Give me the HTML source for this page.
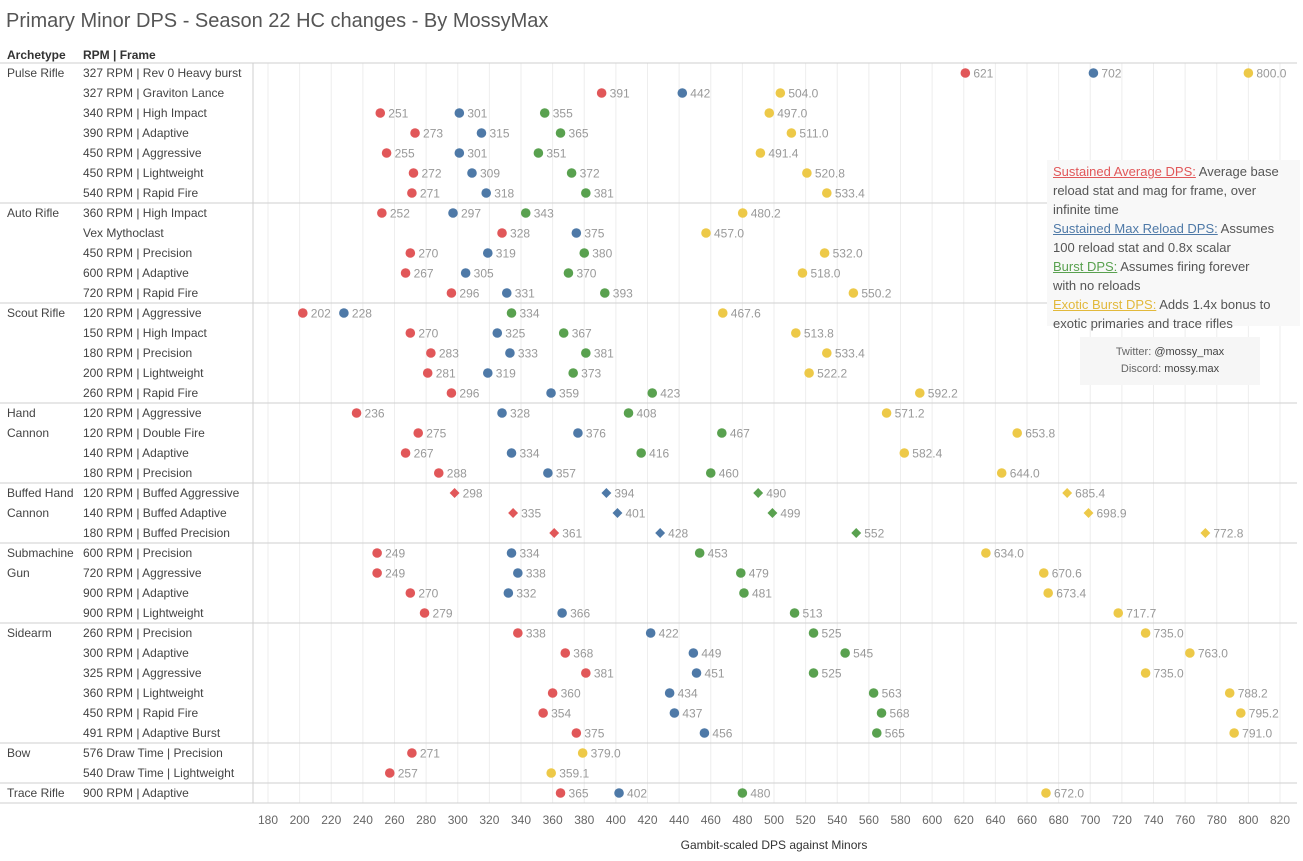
<!DOCTYPE html>
<html><head><meta charset="utf-8"><style>
body{margin:0;background:#fff;font-family:"Liberation Sans",sans-serif;}
#wrap{position:relative;width:1303px;height:861px;overflow:hidden;}
.legend{position:absolute;left:1047px;top:160px;width:253px;height:166px;background:#f8f8f8;font-size:13px;line-height:19px;color:#555;padding:2px 4px 2px 6px;box-sizing:border-box;white-space:nowrap;}
.legend u{text-decoration:underline;}
.social{position:absolute;left:1080px;top:337px;width:180px;height:48px;background:#f6f6f6;font-size:11px;line-height:17px;color:#666;text-align:center;padding-top:7px;box-sizing:border-box;}
.social b{color:#444;font-weight:normal;}
</style></head><body>
<div id="wrap">
<svg id="chart" width="1303" height="861" style="position:absolute;left:0;top:0;font-family:'Liberation Sans',sans-serif;"></svg>
<div class="legend">
<span><u style="color:#e15759">Sustained Average DPS:</u> Average base<br>reload stat and mag for frame, over<br>infinite time</span><br>
<span><u style="color:#4e79a7">Sustained Max Reload DPS:</u> Assumes<br>100 reload stat and 0.8x scalar</span><br>
<span><u style="color:#59a14f">Burst DPS:</u> Assumes firing forever<br>with no reloads</span><br>
<span><u style="color:#e2b93b">Exotic Burst DPS:</u> Adds 1.4x bonus to<br>exotic primaries and trace rifles</span>
</div>
<div class="social">Twitter: <b>@mossy_max</b><br>Discord: <b>mossy.max</b></div>
</div>
<script>
const groups=["Pulse Rifle","Auto Rifle","Scout Rifle","Hand\nCannon","Buffed Hand\nCannon","Submachine\nGun","Sidearm","Bow","Trace Rifle"];
const groupSizes=[7,5,5,4,3,4,6,2,1];
const frames=["327 RPM | Rev 0 Heavy burst","327 RPM | Graviton Lance","340 RPM | High Impact","390 RPM | Adaptive","450 RPM | Aggressive","450 RPM | Lightweight","540 RPM | Rapid Fire",
"360 RPM | High Impact","Vex Mythoclast","450 RPM | Precision","600 RPM | Adaptive","720 RPM | Rapid Fire",
"120 RPM | Aggressive","150 RPM | High Impact","180 RPM | Precision","200 RPM | Lightweight","260 RPM | Rapid Fire",
"120 RPM | Aggressive","120 RPM | Double Fire","140 RPM | Adaptive","180 RPM | Precision",
"120 RPM | Buffed Aggressive","140 RPM | Buffed Adaptive","180 RPM | Buffed Precision",
"600 RPM | Precision","720 RPM | Aggressive","900 RPM | Adaptive","900 RPM | Lightweight",
"260 RPM | Precision","300 RPM | Adaptive","325 RPM | Aggressive","360 RPM | Lightweight","450 RPM | Rapid Fire","491 RPM | Adaptive Burst",
"576 Draw Time | Precision","540 Draw Time | Lightweight","900 RPM | Adaptive"];
const sustainedAvg=[621,391,251,273,255,272,271,252,328,270,267,296,202,270,283,281,296,236,275,267,288,298,335,361,249,249,270,279,338,368,381,360,354,375,271,257,365];
const sustainedMax=[702,442,301,315,301,309,318,297,375,319,305,331,228,325,333,319,359,328,376,334,357,394,401,428,334,338,332,366,422,449,451,434,437,456,null,null,402];
const burst=[null,null,355,365,351,372,381,343,null,380,370,393,334,367,381,373,423,408,467,416,460,490,499,552,453,479,481,513,525,545,525,563,568,565,null,null,480];
const exoticBurst=[800.0,504.0,497.0,511.0,491.4,520.8,533.4,480.2,457.0,532.0,518.0,550.2,467.6,513.8,533.4,522.2,592.2,571.2,653.8,582.4,644.0,685.4,698.9,772.8,634.0,670.6,673.4,717.7,735.0,763.0,735.0,788.2,795.2,791.0,379.0,359.1,672.0];
const diamondRows=[21,22,23];
const ticks=[180,200,220,240,260,280,300,320,340,360,380,400,420,440,460,480,500,520,540,560,580,600,620,640,660,680,700,720,740,760,780,800,820];

const svg=document.getElementById('chart');const NS='http://www.w3.org/2000/svg';
function mk(t,a,p){const e=document.createElementNS(NS,t);for(const k in a)e.setAttribute(k,a[k]);(p||svg).appendChild(e);return e;}
const X=v=>268+(v-180)*(1012/640);
const Y=i=>73+i*20;
const plotL=253,plotR=1297,plotT=63,plotB=803;

let t=mk('text',{x:6,y:27,'font-size':20,fill:'#555'});t.textContent='Primary Minor DPS - Season 22 HC changes - By MossyMax';


t=mk('text',{x:7,y:59,'font-size':12,fill:'#333','font-weight':'bold'});t.textContent='Archetype';


t=mk('text',{x:83,y:59,'font-size':12,fill:'#333','font-weight':'bold'});t.textContent='RPM | Frame';



ticks.forEach(v=>{const l=mk('line',{x1:X(v),x2:X(v),y1:plotT,y2:plotB,stroke:'#eeeeee','stroke-width':1});

});
mk('line',{x1:0,x2:plotR,y1:plotT,y2:plotT,stroke:'#cfcfcf'});
mk('line',{x1:plotL,x2:plotL,y1:plotT,y2:plotB,stroke:'#cfcfcf'});
mk('line',{x1:0,x2:plotR,y1:plotB,y2:plotB,stroke:'#cfcfcf'});

let start=0;
groups.forEach((g,gi)=>{
  const lines=g.split('\n');
  lines.forEach((ln,li)=>{const tt=mk('text',{x:7,y:Y(start)+4+li*20,'font-size':12,fill:'#444'});tt.textContent=ln;
  
  });
  start+=groupSizes[gi];
  if(gi<groups.length-1){const l=mk('line',{x1:0,x2:plotR,y1:Y(start)-10,y2:Y(start)-10,stroke:'#cfcfcf'});
  
  }
});
frames.forEach((f,i)=>{const tt=mk('text',{x:83,y:Y(i)+4,'font-size':12,fill:'#444'});tt.textContent=f;

});

const series=[[sustainedAvg,'#e15759',0],[sustainedMax,'#4e79a7',0],[burst,'#59a14f',0],[exoticBurst,'#edc948',1]];
series.forEach(([arr,col,dec],si)=>{
  arr.forEach((v,i)=>{
    if(v==null)return;
    const cx=X(v),cy=Y(i);let m;
    if(diamondRows.includes(i)){m=mk('rect',{x:cx-3.5,y:cy-3.5,width:7,height:7,fill:col,transform:`rotate(45 ${cx} ${cy})`});}
    else m=mk('circle',{cx:cx,cy:cy,r:4.8,fill:col});
    
    
    const lab=mk('text',{x:cx+8,y:cy+4.5,'font-size':12,fill:'#999'});
    lab.textContent=dec?v.toFixed(1):String(v);
    
    
  });
});

ticks.forEach(v=>{const tt=mk('text',{x:X(v),y:824,'font-size':12,fill:'#666','text-anchor':'middle'});tt.textContent=v;

});
t=mk('text',{x:774,y:849,'font-size':12,fill:'#333','text-anchor':'middle'});t.textContent='Gambit-scaled DPS against Minors';


</script>
</body></html>
